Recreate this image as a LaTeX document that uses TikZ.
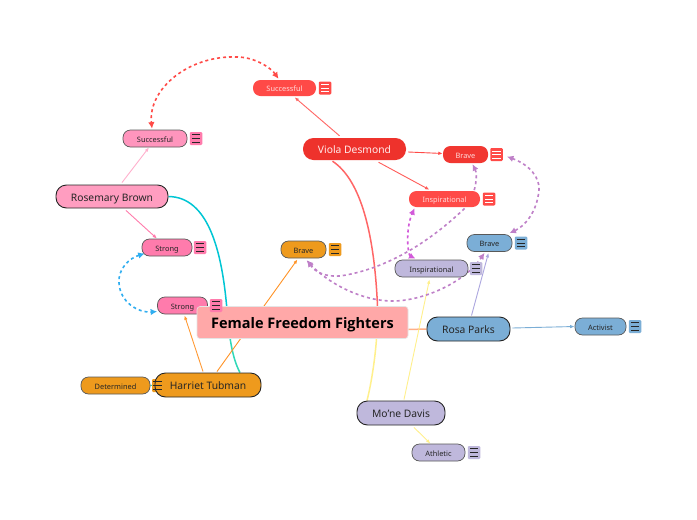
\documentclass[tikz,border=0pt]{standalone}
\usepackage{fontspec}
\setmainfont{Noto Sans}
\newfontfamily\titlefont{Open Sans}
\usetikzlibrary{arrows.meta,calc}
\pgfdeclarelayer{back}
\pgfsetlayers{back,main}
\definecolor{cpinkm}{HTML}{FF9DC0}
\definecolor{cpink}{HTML}{FF7BAC}
\definecolor{corange}{HTML}{EE9A1D}
\definecolor{cred}{HTML}{EE322C}
\definecolor{credc}{HTML}{FF4A47}
\definecolor{cblue}{HTML}{7BAED6}
\definecolor{cpur}{HTML}{BFB8DC}
\definecolor{ccent}{HTML}{FFA8A8}
\definecolor{cdash}{HTML}{BF80C8}
\definecolor{cteal}{HTML}{00C6D4}
\definecolor{cteallow}{HTML}{30D8B8}
\definecolor{cyel}{HTML}{FFF08C}
\definecolor{cskyd}{HTML}{30AEF0}
\definecolor{cpeach}{HTML}{FFB088}
\tikzset{
  x=1pt,y=-1pt,
  box/.style={rectangle,inner sep=0pt,text=black!85,text height=#1,text depth=0pt},
  mainb/.style={box=9pt,rounded corners=10.5pt,draw=black!85,line width=0.9pt,font=\fontsize{10.3}{12}\selectfont},
  childb/.style={box=7.4pt,rounded corners=7.5pt,draw=black!65,line width=0.7pt,font=\fontsize{7.4}{9}\selectfont},
  redmain/.style={box=9pt,rounded corners=10.5pt,fill=cred,text=white!92!red,font=\fontsize{10.3}{12}\selectfont},
  redchild/.style={box=7.4pt,rounded corners=7.5pt,fill=credc,text=white!85!red,font=\fontsize{7.4}{9}\selectfont},
  icon/.style={rectangle,rounded corners=1.2pt,minimum width=12.5pt,minimum height=13pt,inner sep=0pt,fill=#1,
    path picture={\draw[line width=0.9pt,black!85]
      ($(path picture bounding box.center)+(-4.2pt,-3.6pt)$) -- ++(8.4pt,0)
      ($(path picture bounding box.center)+(-4.2pt,0pt)$) -- ++(8.4pt,0)
      ($(path picture bounding box.center)+(-4.2pt,3.6pt)$) -- ++(8.4pt,0);}},
  iconw/.style={rectangle,rounded corners=1.2pt,minimum width=12.5pt,minimum height=13pt,inner sep=0pt,fill=credc,
    path picture={\draw[line width=0.8pt,white]
      ($(path picture bounding box.center)+(-4.2pt,-3.6pt)$) -- ++(8.4pt,0)
      ($(path picture bounding box.center)+(-4.2pt,0pt)$) -- ++(8.4pt,0)
      ($(path picture bounding box.center)+(-4.2pt,3.6pt)$) -- ++(8.4pt,0);}},
  link/.style={line width=0.9pt,draw=#1,-{Latex[length=4.5pt,width=3.5pt]}},
  thick link/.style={line width=1.5pt,draw=#1},
  reldash/.style={line width=1.6pt,draw=#1,dash pattern=on 3pt off 3pt,{Latex[length=6.5pt,width=6.5pt]}-{Latex[length=6.5pt,width=6.5pt]}},
}
\begin{document}
\begin{tikzpicture}
\useasboundingbox (0,0) rectangle (697,520);
% nodes
\node[mainb,fill=cpinkm,minimum width=112pt,minimum height=23pt] (rosemary) at (112,196.5) {Rosemary Brown};
\node[childb,fill=cpink!80!white,minimum width=64pt,minimum height=17pt] (succp) at (155,138.5) {Successful};
\node[icon=cpink] (succpi) at (196,138.5) {};
\node[childb,fill=cpink,minimum width=50pt,minimum height=17pt] (strong1) at (167,247.5) {Strong};
\node[icon=cpink] (strong1i) at (200,247.5) {};
\node[childb,fill=cpink,minimum width=50pt,minimum height=17pt] (strong2) at (182.5,305.5) {Strong};
\node[rectangle,rounded corners=3pt,fill=ccent,draw=white!90!black,line width=0.6pt,minimum width=211pt,minimum height=32pt,inner sep=0pt,text=black,text height=11.6pt,text depth=0pt,font=\titlefont\fontsize{14.5}{17}\selectfont\bfseries] (central) at (302.5,322.5) {Female Freedom Fighters};
\node[icon=cpink] (strong2i) at (216,305.5) {};
\node[icon=corange,minimum width=11pt] (deticon) at (157.5,385.5) {};
\node[mainb,fill=corange,minimum width=106pt,minimum height=24pt] (harriet) at (208,385) {Harriet Tubman};
\node[childb,fill=corange,minimum width=69pt,minimum height=17pt] (determined) at (115.5,385.5) {Determined};
\draw[line width=0.9pt,black!85] (154.5,381.8) -- (162,381.8) (154.5,385.5) -- (162,385.5) (154.5,389.2) -- (162,389.2);
\node[childb,fill=corange,minimum width=45pt,minimum height=17pt] (bravo) at (303.5,249.5) {Brave};
\node[icon=corange] (bravoi) at (335,249.5) {};
\node[redchild,minimum width=63pt,minimum height=16pt] (succr) at (284.5,88) {Successful};
\node[iconw] (succri) at (325,88) {};
\node[redmain,minimum width=103pt,minimum height=22pt] (viola) at (354.5,149) {Viola Desmond};
\node[redchild,fill=cred!80!credc,minimum width=45pt,minimum height=17pt] (braver) at (465.5,154.5) {Brave};
\node[iconw] (braveri) at (496.5,154.5) {};
\node[redchild,minimum width=71pt,minimum height=16pt] (inspr) at (444.5,199) {Inspirational};
\node[iconw] (inspri) at (489,199) {};
\node[childb,fill=cblue,minimum width=45pt,minimum height=17pt] (braveb) at (489.5,243) {Brave};
\node[icon=cblue] (bravebi) at (521,243) {};
\node[childb,fill=cpur,minimum width=73pt,minimum height=17pt] (inspp) at (431.5,268.5) {Inspirational};
\node[icon=cpur] (inspi) at (476,268.5) {};
\node[mainb,fill=cblue,minimum width=83pt,minimum height=24pt] (rosa) at (468.5,329) {Rosa Parks};
\node[childb,fill=cblue,minimum width=51pt,minimum height=17pt] (activist) at (600.5,326.5) {Activist};
\node[icon=cblue] (activisti) at (635,326.5) {};
\node[mainb,fill=cpur,minimum width=88pt,minimum height=24pt] (mone) at (401,413) {Mo'ne Davis};
\node[childb,fill=cpur,minimum width=53pt,minimum height=17pt] (athletic) at (438.5,452.5) {Athletic};
\node[icon=cpur] (athletici) at (474,452.5) {};
\coordinate (tealmid) at (227,310);
\begin{pgfonlayer}{back}
\fill[white] (0,0) rectangle (697,520);
% thick curves
\draw[thick link=cteal] (rosemary.east) .. controls (208,197) and (222,250) .. (tealmid);
\draw[thick link=cteallow] (tealmid) .. controls (229,335) and (232,358) .. (harriet.north -| 240,0);
\draw[thick link=red!60!white] ($(viola.south)+(-22,1)$) .. controls (358,178) and (374,225) .. ($(central.north)+(75,0)$);
\draw[thick link=cyel] ($(mone.north)+(-34,0)$) .. controls (371,385) and (375,360) .. ($(central.south)+(74,0)$);
\draw[thick link=cpeach] ($(central.east)+(0,7)$) -- ($(rosa.west)+(0,0)$);
% links
\draw[link=cpink!60!white] ($(rosemary.north)+(10,-2)$) -- (succp.south -| 149,0);
\draw[link=cpink] ($(rosemary.south)+(14,2)$) -- (strong1.north -| 157,0);
\draw[link=credc!85!white] ($(viola.north)+(-15,-2)$) -- ($(succr.south)+(10,1)$);
\draw[link=credc] ($(viola.east)+(2,3)$) -- ($(braver.west)+(0,-1)$);
\draw[link=credc!90!white] ($(viola.south)+(24,2)$) -- ($(inspr.north)+(-15,-1)$);
\draw[link=orange!80!white] ($(harriet.north)+(-5,-1)$) -- ($(strong2.south)+(2,1)$);
\draw[link=orange!85!white] ($(harriet.north)+(9,-1)$) -- ($(bravo.south)+(-6,1)$);
\draw[link=cpur!90!blue] ($(rosa.north)+(3,-1)$) -- ($(braveb.south)+(-1,1)$);
\draw[link=cblue] ($(rosa.east)+(2,-1)$) -- (activist.west);
\draw[link=cyel] ($(mone.north)+(3,-1)$) -- ($(inspp.south)+(-2,2)$);
\draw[link=cyel] ($(mone.south)+(13,2)$) -- ($(athletic.north)+(-8,0)$);
\draw[line width=0.9pt,cteallow] (determined.east) -- (harriet.west);
% dashed relations
\draw[reldash=credc] ($(succr.north)+(-6,-1)$) .. controls (271,68) and (255,57) .. (237,57) .. controls (190,55) and (148,88) .. ($(succp.north)+(-3,-1)$);
\draw[reldash=cskyd] ($(strong1.west)+(3,6)$) .. controls (130,258) and (118,268) .. (119,283) .. controls (120,302) and (138,313) .. ($(strong2.west)+(0,6)$);
\draw[reldash=cdash] ($(braveri.east)+(4,2)$) .. controls (530,165) and (540,178) .. (539,190) .. controls (537,212) and (525,226) .. ($(braveb.north)+(20,-1)$);
\draw[reldash=cdash] ($(braver.south)+(7,1)$) .. controls (478,175) and (476,195) .. (465,208) .. controls (440,232) and (395,268) .. (340,276) .. controls (325,277) and (315,272) .. ($(bravo.south)+(4,2)$);
\draw[reldash=cdash] ($(bravo.south)+(3,2)$) .. controls (330,285) and (365,302) .. (395,301) .. controls (425,300) and (465,282) .. ($(braveb.south)+(-5,1)$);
\draw[reldash=cdash!70!magenta] ($(inspp.north)+(-16,-1)$) .. controls (408,255) and (405,230) .. ($(inspr.south)+(-30,1)$);
\end{pgfonlayer}
\end{tikzpicture}
\end{document}
